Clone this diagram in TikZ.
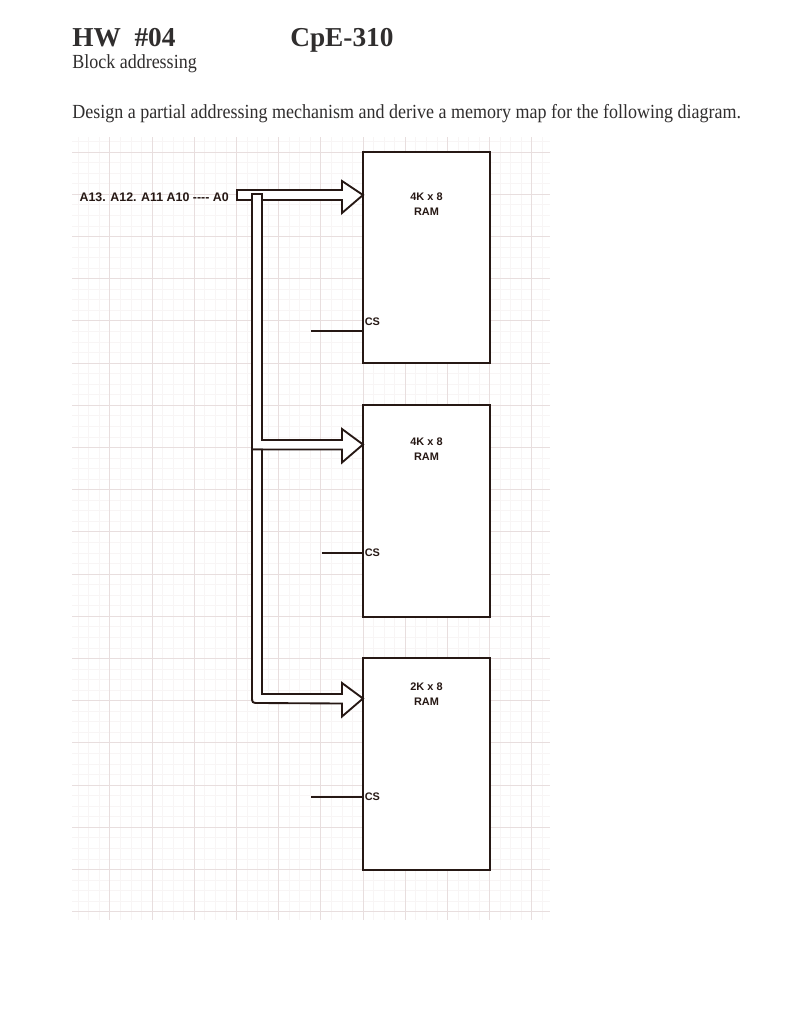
\documentclass[tikz,border=0pt]{standalone}
\usepackage{xcolor}
\usepackage{fontspec}
\setmainfont{Liberation Serif}
\setsansfont{Liberation Sans}
\newfontfamily\narrowserif{Liberation Serif}[FakeStretch=0.9]
\usepackage{tikz}
\usetikzlibrary{positioning,calc}

\definecolor{linecol}{RGB}{38,24,20}
\definecolor{gridmaj}{RGB}{232,222,222}
\definecolor{gridmin}{RGB}{248,245,245}
\definecolor{headcol}{RGB}{48,46,46}

\begin{document}
\begin{tikzpicture}[x=0.75pt,y=-0.75pt,
		ram/.style={draw=linecol,line width=1.5pt,fill=white,rectangle,inner sep=0pt,outer sep=0pt,minimum width=95.25pt,minimum height=158.6pt},
		ramtxt/.style={font=\sffamily\bfseries\fontsize{8.2}{11}\selectfont,text=linecol,align=center,inner sep=0pt},
		cstxt/.style={font=\sffamily\bfseries\fontsize{8.2}{10}\selectfont,text=linecol,inner sep=0pt,anchor=west},
		bus/.style={draw=linecol,line width=1.4pt,fill=white,line join=miter},
		head/.style={font=\bfseries\fontsize{20.5}{24}\selectfont,text=headcol,inner sep=0pt,anchor=base west},
		body/.style={font=\narrowserif\fontsize{15}{18}\selectfont,text=headcol,inner sep=0pt,anchor=base west}]
		\useasboundingbox[fill=white] (0,0) rectangle (807,1024);
		\foreach \i in {1,...,45}
			\draw[gridmin,line width=0.5pt] ({67.6+10.55*\i},137) -- ({67.6+10.55*\i},920);
		\foreach \j in {-1,...,72}
			\draw[gridmin,line width=0.5pt] (72,{152+10.55*\j}) -- (550,{152+10.55*\j});
		\foreach \i in {1,...,11}
			\draw[gridmaj,line width=0.75pt] ({67.6+42.2*\i},137) -- ({67.6+42.2*\i},920);
		\foreach \j in {0,...,18}
			\draw[gridmaj,line width=0.75pt] (72,{152+42.2*\j}) -- (550,{152+42.2*\j});
		\node[head] (hw) at (72,46.7) {HW\ \ \#04};
		\node[head] (course) at (290,46.7) {CpE-310};
		\node[body] (sub) at (72,68.3) {Block addressing};
		\node[body] (task) at (72,118) {Design a partial addressing mechanism and derive a memory map for the following diagram.};
		\node[ram] (ram1) at (426.5,257.5) {};
		\node[ram] (ram2) at (426.5,511) {};
		\node[ram] (ram3) at (426.5,764) {};
		\node[ramtxt] (lbl1) at (426.5,204) {4K x 8\\RAM};
		\node[ramtxt] (lbl2) at (426.5,449) {4K x 8\\RAM};
		\node[ramtxt] (lbl3) at (426.5,694) {2K x 8\\RAM};
		\node[cstxt] (cs1) at (364.5,322) {CS};
		\node[cstxt] (cs2) at (364.5,553) {CS};
		\node[cstxt] (cs3) at (364.5,797) {CS};
		\coordinate (sel1) at (311,331);
		\coordinate (sel2) at (321.5,553);
		\coordinate (sel3) at (311,797);
		\draw[linecol,line width=1pt] (sel1) -- (sel1 -| ram1.west);
		\draw[linecol,line width=1pt] (sel2) -- (sel2 -| ram2.west);
		\draw[linecol,line width=1pt] (sel3) -- (sel3 -| ram3.west);
		\node[font=\sffamily\bfseries\fontsize{9.3}{11}\selectfont,text=linecol,inner sep=0pt,anchor=east] (addr) at (229,197.5) {A13. A12. A11 A10 -{}-{}-{}- A0};
		\coordinate (b1) at (237,195);
		\coordinate (tip1) at (ram1.west |- 0,195);
		\coordinate (tip2) at (ram2.west |- 0,444.5);
		\coordinate (tip3) at (ram3.west |- 0,698.5);
		\draw[bus] ($(b1)+(0,-5)$) -- ($(tip1)+(-21,-5)$) -- ++(0,-9) -- (tip1) -- ++(-21,18) -- ++(0,-13) -- ($(b1)+(0,5)$) -- cycle;
		\draw[bus] (252,194) -- (262,194) -- (262,440) -- ($(tip2)+(-21,-4.5)$) -- ++(0,-11) -- (tip2) -- ++(-21,18) -- ++(0,-13) -- (252,449.5) -- cycle;
		\draw[bus] (252,449.5) -- (262,449.5) -- (262,694) -- ($(tip3)+(-21,-4.5)$) -- ++(0,-11) -- (tip3) -- ++(-21,18) -- ++(0,-13) -- (259,703) .. controls (252,703) .. (252,696) -- cycle;
	\end{tikzpicture}
\end{document}
